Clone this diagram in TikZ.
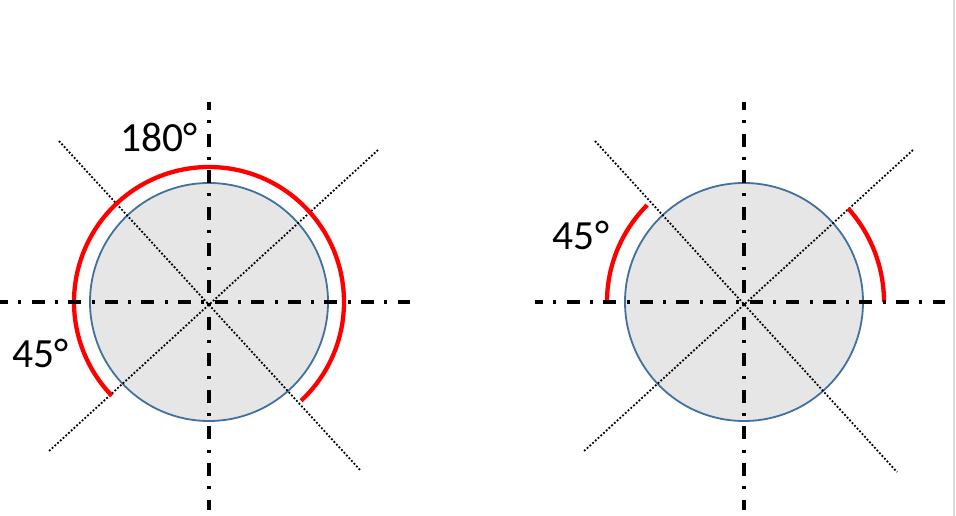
\documentclass[tikz,border=0pt]{standalone}
\usepackage{fontspec}
\setmainfont{Carlito}
\usetikzlibrary{calc}
\begin{document}
\begin{tikzpicture}[x=1pt,y=1pt,
  disc/.style={draw=discblue,fill=discfill,line width=1.8pt},
  redarc/.style={draw=red,line width=4.3pt},
  dashdot/.style={draw=black,line width=3.4pt,dash pattern=on 13pt off 10.3pt on 3pt off 10.3pt,dash phase=5pt},
  dotline/.style={draw=black,line width=1.8pt,dash pattern=on 1.8pt off 1.9pt},
  angtext/.style={font=\fontsize{41.5}{41.5}\selectfont,inner sep=0pt,anchor=base}]
\definecolor{discblue}{RGB}{65,113,156}
\definecolor{discfill}{RGB}{230,230,230}
\definecolor{edgegray}{RGB}{218,218,218}
\useasboundingbox (0,0) rectangle (956,516);
\fill[white] (0,0) rectangle (956,516);
\draw[edgegray,line width=1.5pt] (954,0) -- (954,516);
% left figure
\coordinate (cL) at (209,214);
\path[disc] (cL) circle[radius=119];
\coordinate (lnw) at (59,375); \coordinate (lse) at (361,45);
\coordinate (lne) at (378,366); \coordinate (lsw) at (48,64);
\draw[dotline] (lnw) -- (lse);
\draw[dotline] (lne) -- (lsw);
\draw[redarc] ($(cL)+(-47:135)$) arc[start angle=-47,end angle=224,radius=135];
\coordinate (lhw) at (0,214); \coordinate (lhe) at (410,214);
\coordinate (lvt) at (209,414); \coordinate (lvb) at (209,6);
\draw[dashdot] (lhw) -- (lhe);
\draw[dashdot] (lvt) -- (lvb);
\node[angtext] (t180) at (159,364) {180°};
\node[angtext] (t45l) at (40.5,148) {45°};
% right figure
\coordinate (cR) at (744,214);
\path[disc] (cR) circle[radius=119];
\coordinate (rnw) at (595,375); \coordinate (rse) at (897,44);
\coordinate (rne) at (913,366); \coordinate (rsw) at (583,64);
\draw[dotline] (rnw) -- (rse);
\draw[dotline] (rne) -- (rsw);
\draw[redarc] ($(cR)+(135:137)$) arc[start angle=135,end angle=180,radius=137];
\draw[redarc] ($(cR)+(0:140)$) arc[start angle=0,end angle=42,radius=140];
\coordinate (rhw) at (535,214); \coordinate (rhe) at (945,214);
\coordinate (rvt) at (744,414); \coordinate (rvb) at (744,6);
\draw[dashdot] (rhw) -- (rhe);
\draw[dashdot] (rvt) -- (rvb);
\node[angtext] (t45r) at (581,266) {45°};
\end{tikzpicture}
\end{document}
